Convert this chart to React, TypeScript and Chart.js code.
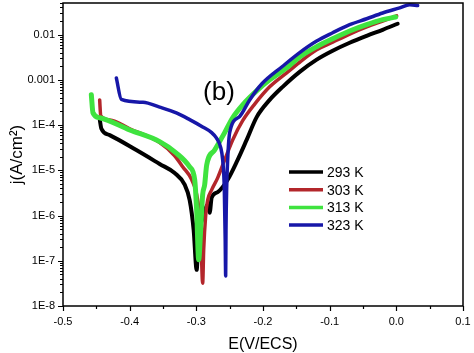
import React, { useEffect, useRef } from "react";
import { Chart, registerables } from "chart.js";

Chart.register(...registerables);

// ---------- data ----------
const seriesNames = ["293 K", "303 K", "313 K", "323 K"];
const seriesColors = ["#000000", "#b3262b", "#3fe33f", "#1717a8"];
const seriesWidths = [4, 3.5, 5, 3.5];

// 293 K (black)
const e293 = [
  -0.4448, -0.4424, -0.43, -0.39, -0.355, -0.3325, -0.3175, -0.31, -0.304, -0.2995,
  -0.297, -0.289, -0.283, -0.28, -0.277, -0.268, -0.253, -0.238, -0.2245, -0.2095,
  -0.19, -0.1705, -0.145, -0.1195, -0.0955, -0.07, -0.0445, -0.0205, 0.002,
];
const j293 = [
  1.3e-4, 8.3e-5, 6.0e-5, 2.8e-5, 1.38e-5, 8.7e-6, 4.8e-6, 2.2e-6, 4.8e-7, 6.3e-8,
  2.9e-7, 1.0e-6, 1.7e-6, 1.15e-6, 2.5e-6, 3.3e-6, 6.2e-6, 1.7e-5, 4.7e-5, 1.5e-4,
  3.6e-4, 7.0e-4, 1.5e-3, 2.8e-3, 4.4e-3, 6.6e-3, 9.4e-3, 1.28e-2, 1.74e-2,
];

// 303 K (red)
const e303 = [
  -0.445, -0.4434, -0.43, -0.4, -0.355, -0.3325, -0.3205, -0.307, -0.298, -0.2935, -0.2905,
  -0.289, -0.286, -0.283, -0.277, -0.268, -0.2575, -0.2455, -0.2305, -0.2125, -0.19,
  -0.1645, -0.145, -0.1195, -0.0955, -0.07, -0.0445, -0.0205, 0.0005,
];
const j303 = [
  3.6e-4, 1.6e-4, 1.3e-4, 8.3e-5, 4.1e-5, 2.1e-5, 1.2e-5, 6.2e-6, 2.2e-6, 4.8e-7, 3.2e-8,
  1.74e-7, 1.0e-6, 2.2e-6, 3.7e-6, 6.8e-6, 1.7e-5, 4.7e-5, 1.25e-4, 2.9e-4, 7.0e-4,
  1.43e-3, 2.45e-3, 4.6e-3, 6.8e-3, 1.03e-2, 1.48e-2, 2.0e-2, 2.6e-2,
];

// 313 K (green)
const e313 = [
  -0.4575, -0.455, -0.445, -0.4, -0.355, -0.33, -0.31, -0.3025, -0.2995, -0.2965,
  -0.2935, -0.2905, -0.2875, -0.2845, -0.2725, -0.2575, -0.2455, -0.2305, -0.208, -0.19,
  -0.1645, -0.145, -0.1195, -0.0955, -0.07, -0.0445, -0.0205, -0.001,
];
const j313 = [
  4.7e-4, 1.86e-4, 1.45e-4, 7.8e-5, 4.3e-5, 2.4e-5, 1.19e-5, 6.2e-6, 1.3e-6, 1.05e-7,
  4.8e-7, 2.9e-6, 4.8e-6, 1.3e-5, 2.8e-5, 6.8e-5, 1.45e-4, 2.8e-4, 6.0e-4, 1.0e-3,
  1.84e-3, 3.2e-3, 5.4e-3, 8.1e-3, 1.2e-2, 1.66e-2, 2.14e-2, 2.45e-2,
];

// 323 K (blue)
const e323 = [
  -0.42, -0.4125, -0.38, -0.355, -0.33, -0.31, -0.2905, -0.277, -0.27, -0.2635, -0.2605,
  -0.258, -0.2567, -0.256, -0.2555, -0.2545, -0.253, -0.25, -0.235, -0.22, -0.202,
  -0.1705, -0.145, -0.1195, -0.0955, -0.07, -0.0445, -0.0205, 0.005, 0.02, 0.032,
];
const j323 = [
  1.1e-3, 3.7e-4, 3.2e-4, 2.5e-4, 1.86e-4, 1.32e-4, 9.1e-5, 6.8e-5, 5.2e-5, 3.2e-5, 1.7e-5,
  3.7e-6, 2.9e-7, 4.6e-8, 5.0e-7, 4.0e-6, 1.7e-5, 6.8e-5, 1.55e-4, 3.6e-4, 8.1e-4,
  2.0e-3, 4.0e-3, 7.2e-3, 1.1e-2, 1.66e-2, 2.24e-2, 3.0e-2, 3.9e-2, 4.57e-2, 4.4e-2,
];

const seriesE = [e293, e303, e313, e323];
const seriesJ = [j293, j303, j313, j323];

// axes
const xMin = -0.5;
const xMax = 0.1;
const xTickValues = [-0.5, -0.4, -0.3, -0.2, -0.1, 0.0, 0.1];
const xTickLabels = ["-0.5", "-0.4", "-0.3", "-0.2", "-0.1", "0.0", "0.1"];
const yMin = 1e-8;
const yMax = 0.05;
const yTickValues = [1e-8, 1e-7, 1e-6, 1e-5, 1e-4, 1e-3, 1e-2];
const yTickLabels = ["1E-8", "1E-7", "1E-6", "1E-5", "1E-4", "0.001", "0.01"];
const xTitle = "E(V/ECS)";
const yTitle = "j(A/cm²)";
const panelLabel = "(b)";
const panelLabelPos = { x: -0.266, y: 5.1e-4 };

const FONT = "'Liberation Sans', Arial, sans-serif";

const decorPlugin = {
  id: "decor",
  afterDraw(chart: any) {
    const { ctx, chartArea, scales } = chart;
    const xs = scales.x;
    const ys = scales.y;
    const { left, right, top, bottom } = chartArea;
    ctx.save();
    ctx.strokeStyle = "#000";
    ctx.lineWidth = 1.5;
    ctx.strokeRect(left, top, right - left, bottom - top);

    // x ticks
    ctx.lineWidth = 1.2;
    ctx.beginPath();
    for (let i = 0; i < xTickValues.length; i++) {
      const px = Math.round(xs.getPixelForValue(xTickValues[i])) + 0.5;
      ctx.moveTo(px, bottom);
      ctx.lineTo(px, bottom + 5);
      if (i < xTickValues.length - 1) {
        const mid = (xTickValues[i] + xTickValues[i + 1]) / 2;
        const pm = Math.round(xs.getPixelForValue(mid)) + 0.5;
        ctx.moveTo(pm, bottom);
        ctx.lineTo(pm, bottom + 3);
      }
    }
    ctx.stroke();

    // y ticks
    ctx.beginPath();
    for (let i = 0; i < yTickValues.length; i++) {
      const py = Math.round(ys.getPixelForValue(yTickValues[i])) + 0.5;
      ctx.moveTo(left, py);
      ctx.lineTo(left - 5, py);
      for (let k = 2; k <= 9; k++) {
        const v = yTickValues[i] * k;
        if (v > yMax) break;
        const pm = Math.round(ys.getPixelForValue(v)) + 0.5;
        ctx.moveTo(left, pm);
        ctx.lineTo(left - 3, pm);
      }
    }
    ctx.stroke();

    // panel label
    ctx.fillStyle = "#000";
    ctx.font = `26px ${FONT}`;
    ctx.textAlign = "center";
    ctx.textBaseline = "middle";
    ctx.fillText(
      panelLabel,
      xs.getPixelForValue(panelLabelPos.x),
      ys.getPixelForValue(panelLabelPos.y)
    );

    // legend
    const lx0 = left + 226;
    const lx1 = left + 260;
    const ly0 = top + 169;
    const dy = 17.7;
    ctx.font = `14px ${FONT}`;
    ctx.textAlign = "left";
    for (let i = 0; i < seriesNames.length; i++) {
      const y = ly0 + i * dy;
      ctx.strokeStyle = seriesColors[i];
      ctx.lineWidth = 3.5;
      ctx.beginPath();
      ctx.moveTo(lx0, y);
      ctx.lineTo(lx1, y);
      ctx.stroke();
      ctx.fillStyle = "#000";
      ctx.fillText(seriesNames[i], lx1 + 4, y + 1);
    }
    ctx.restore();
  },
};

export default function App() {
  const ref = useRef<HTMLCanvasElement | null>(null);
  useEffect(() => {
    if (!ref.current) return;
    const datasets = seriesNames.map((name, s) => ({
      label: name,
      data: seriesE[s].map((e, i) => ({ x: e, y: seriesJ[s][i] })),
      borderColor: seriesColors[s],
      backgroundColor: seriesColors[s],
      borderWidth: seriesWidths[s],
      pointRadius: 0,
      cubicInterpolationMode: "monotone" as const,
      fill: false,
      order: seriesNames.length - s,
      borderJoinStyle: "round" as const,
      borderCapStyle: "round" as const,
    }));
    const chart = new Chart(ref.current, {
      type: "line",
      data: { datasets },
      options: {
        responsive: false,
        animation: false,
        devicePixelRatio: 1,
        layout: { padding: { left: 0, top: 3, right: 11, bottom: 0 } },
        plugins: { legend: { display: false }, tooltip: { enabled: false } },
        scales: {
          x: {
            type: "linear",
            min: xMin,
            max: xMax,
            afterBuildTicks: (s: any) => {
              s.ticks = xTickValues.map((v) => ({ value: v }));
            },
            ticks: {
              callback: (_v: any, i: number) => xTickLabels[i],
              font: { family: FONT, size: 11 },
              color: "#000",
              padding: 9,
              maxRotation: 0,
              autoSkip: false,
            },
            grid: { display: true, drawOnChartArea: false, drawTicks: false },
            border: { display: false },
            title: {
              display: true,
              text: xTitle,
              color: "#000",
              font: { family: FONT, size: 16, lineHeight: 1 },
              padding: { top: 0, bottom: 0 },
            },
            afterFit: (s: any) => {
              s.height = 47;
              s.paddingLeft = 0;
              s.paddingRight = 0;
            },
          },
          y: {
            type: "logarithmic",
            min: yMin,
            max: yMax,
            afterBuildTicks: (s: any) => {
              s.ticks = yTickValues.map((v) => ({ value: v }));
            },
            ticks: {
              callback: (_v: any, i: number) => yTickLabels[i],
              font: { family: FONT, size: 11 },
              color: "#000",
              padding: 8,
              autoSkip: false,
            },
            grid: { display: true, drawOnChartArea: false, drawTicks: false },
            border: { display: false },
            title: {
              display: true,
              text: yTitle,
              color: "#000",
              font: { family: FONT, size: 17, lineHeight: 1 },
              padding: { top: 9, bottom: 0 },
            },
            afterFit: (s: any) => {
              s.width = 63;
              s.paddingTop = 0;
              s.paddingBottom = 0;
            },
          },
        },
      },
      plugins: [decorPlugin],
    });
    return () => chart.destroy();
  }, []);
  return (
    <div style={{ position: "fixed", left: 0, top: 0, width: 474, height: 353, background: "#fff" }}>
      <canvas ref={ref} width={474} height={353} style={{ display: "block" }} />
    </div>
  );
}
